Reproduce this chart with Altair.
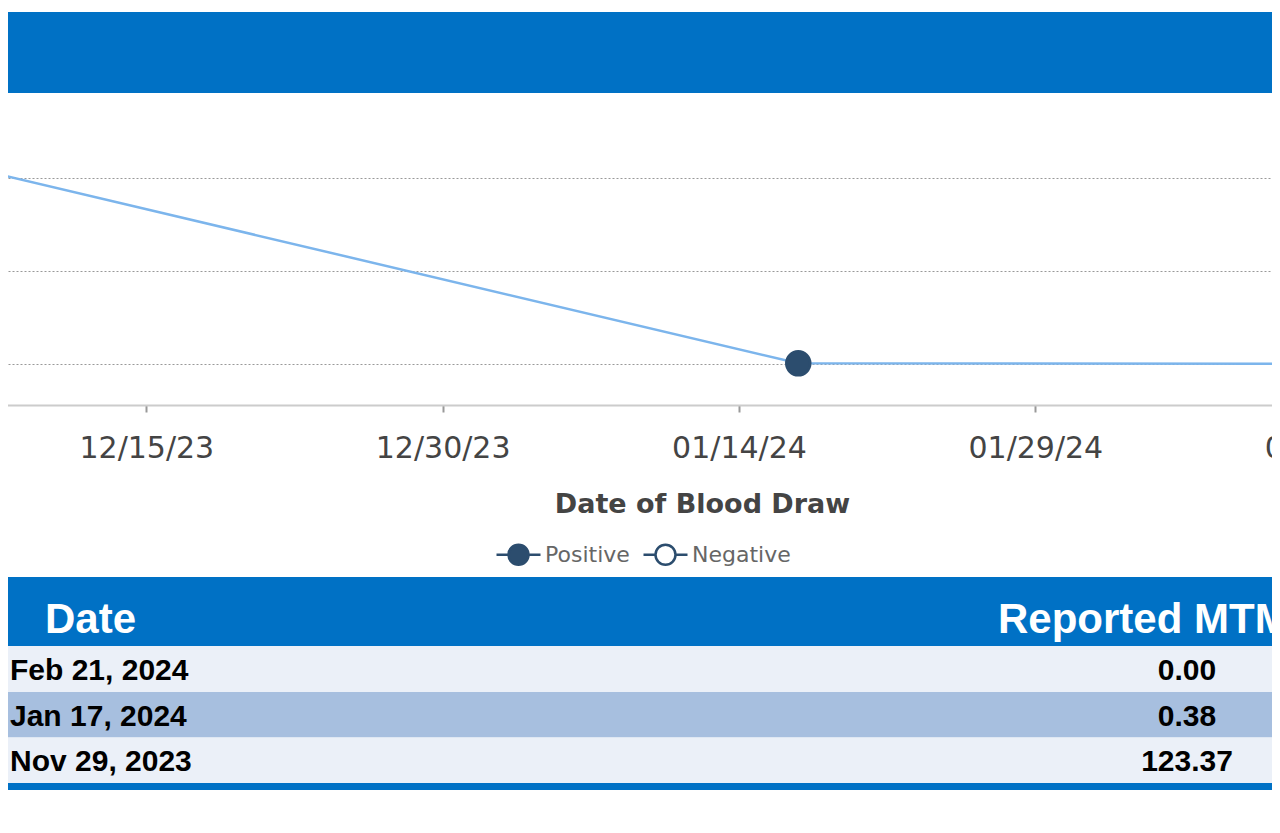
import altair as alt
import pandas as pd

# ---- data ----
draw_dates = ["2023-11-29", "2024-01-17", "2024-02-21"]
mtm_values = [123.37, 0.38, 0.00]
results = ["Positive", "Positive", "Negative"]
tick_dates = ["2023-12-15", "2023-12-30", "2024-01-14", "2024-01-29", "2024-02-13"]
y_grid_values = [0, 50, 100]
legend_labels = ["Positive", "Negative"]
table_columns = ["Date", "Reported MTM"]
axis_title = "Date of Blood Draw"

BLUE = "#0071c5"
DARK = "#2c4d6e"
LINE = "#7cb5ec"
LIGHT = "#ebf0f8"
MID = "#a7bfdf"

df = pd.DataFrame({"date": draw_dates, "mtm": mtm_values, "result": results})
df["row"] = df["date"].rank(ascending=False).astype(int)


def dt(s, hours=0, minutes=0):
    y, m, d = (int(p) for p in s.split("-"))
    return alt.DateTime(year=y, month=m, date=d, hours=hours, minutes=minutes, utc=True)


tick_dt = [dt(s) for s in tick_dates]
x_domain = [dt("2023-12-07", 14, 14), dt("2024-02-16", 11, 1)]

W = 1400
H = 312
SVG_W = 1264  # page is 1280 wide with an 8px body margin on each side
one = alt.Data(values=[{"k": 0}])

# top blue banner
banner = alt.Chart(one).mark_rect(color=BLUE).encode(
    x=alt.value(0), x2=alt.value(W), y=alt.value(-81), y2=alt.value(0)
)

x_enc = alt.X(
    "date:T",
    scale=alt.Scale(type="utc", domain=x_domain),
    axis=alt.Axis(
        values=tick_dt,
        format="%m/%d/%y",
        labelFont="DejaVu Sans",
        labelFontSize=30,
        labelColor="#444",
        labelBaseline="alphabetic",
        labelPadding=45,
        labelFlush=False,
        labelOverlap=False,
        tickSize=7,
        tickWidth=2,
        tickColor="#999",
        domainColor="#ccc",
        domainWidth=2,
        grid=False,
        title=axis_title,
        titleFont="DejaVu Sans",
        titleFontSize=27,
        titleFontWeight="bold",
        titleColor="#444",
        titleX=702,
        titleY=107,
        titleBaseline="alphabetic",
        titleAlign="center",
    ),
)
y_enc = alt.Y(
    "mtm:Q",
    scale=alt.Scale(domain=[-22.04, 145.7], nice=False, zero=False),
    axis=alt.Axis(
        values=y_grid_values,
        grid=True,
        gridDash=[2, 2],
        gridColor="#999",
        gridWidth=1,
        labels=False,
        ticks=False,
        domain=False,
        title=None,
    ),
)

line = alt.Chart(df).mark_line(color=LINE, strokeWidth=2.5, clip=True).encode(
    x=x_enc, y=y_enc
)

legend_path = "M-2.2,0H-1M1,0H2.2M-1,0A1,1 0 1,1 1,0A1,1 0 1,1 -1,0Z"
points = alt.Chart(df).mark_point(
    filled=True, shape="circle", size=576, opacity=1, stroke=DARK, strokeWidth=2.5, clip=True
).encode(
    x="date:T",
    y="mtm:Q",
    fill=alt.Fill(
        "result:N",
        scale=alt.Scale(domain=legend_labels, range=[DARK, "white"]),
        legend=alt.Legend(
            title=None,
            orient="none",
            legendX=507,
            legendY=450,
            direction="horizontal",
            padding=0,
            symbolType=legend_path,
            symbolSize=400,
            symbolStrokeColor=DARK,
            symbolStrokeWidth=2.5,
            symbolOpacity=1,
            labelFont="DejaVu Sans",
            labelFontSize=22,
            labelColor="#666",
            labelOffset=15,
            columnPadding=8,
        ),
    ),
)

chart_part = alt.layer(line, points)

# ---- table ----
row_y = alt.Y(
    "row:O",
    scale=alt.Scale(range=[553, 690], paddingInner=0, paddingOuter=0),
    axis=None,
)
table_head = alt.Chart(one).mark_rect(color=BLUE).encode(
    x=alt.value(0), x2=alt.value(W), y=alt.value(484), y2=alt.value(553)
)
table_foot = alt.Chart(one).mark_rect(color=BLUE).encode(
    x=alt.value(0), x2=alt.value(W), y=alt.value(690), y2=alt.value(697)
)
head_date = alt.Chart(one).mark_text(
    align="left", baseline="alphabetic", font="Liberation Sans", fontSize=42,
    fontWeight="bold", color="white"
).encode(x=alt.value(45), y=alt.value(540), text=alt.value(table_columns[0]))
head_val = alt.Chart(one).mark_text(
    align="left", baseline="alphabetic", font="Liberation Sans", fontSize=42,
    fontWeight="bold", color="white"
).encode(x=alt.value(998), y=alt.value(540), text=alt.value(table_columns[1]))

rows = alt.Chart(df).mark_rect().encode(
    x=alt.value(0),
    x2=alt.value(W),
    y=row_y,
    fill=alt.Fill("row:O", scale=alt.Scale(domain=[1, 2, 3], range=[LIGHT, MID, LIGHT]), legend=None),
)
date_text = alt.Chart(df).mark_text(
    align="left", baseline="alphabetic", dy=11, font="Liberation Sans", fontSize=30,
    fontWeight="bold", color="black"
).encode(
    x=alt.value(10),
    y=row_y,
    text=alt.Text("date:T", timeUnit="utcyearmonthdate", format="%b %d, %Y"),
)
val_text = alt.Chart(df).mark_text(
    align="center", baseline="alphabetic", dy=11, font="Liberation Sans", fontSize=30,
    fontWeight="bold", color="black"
).encode(
    x=alt.value(1187),
    y=row_y,
    text=alt.Text("mtm:Q", format=".2f"),
)
table_part = alt.layer(rows, date_text, val_text).resolve_scale(fill="independent")

chart = (
    alt.layer(banner, chart_part, table_part, table_head, table_foot, head_date, head_val)
    .resolve_scale(y="independent", fill="independent")
    .properties(
        width=W,
        height=H,
        autosize=alt.AutoSizeParams(type="none"),
        padding={"left": -8, "top": 85, "right": SVG_W - W + 8, "bottom": 395},
        background="white",
    )
    .configure_view(strokeWidth=0)
)

chart.save("out.html", embed_options={"renderer": "svg", "actions": False})
